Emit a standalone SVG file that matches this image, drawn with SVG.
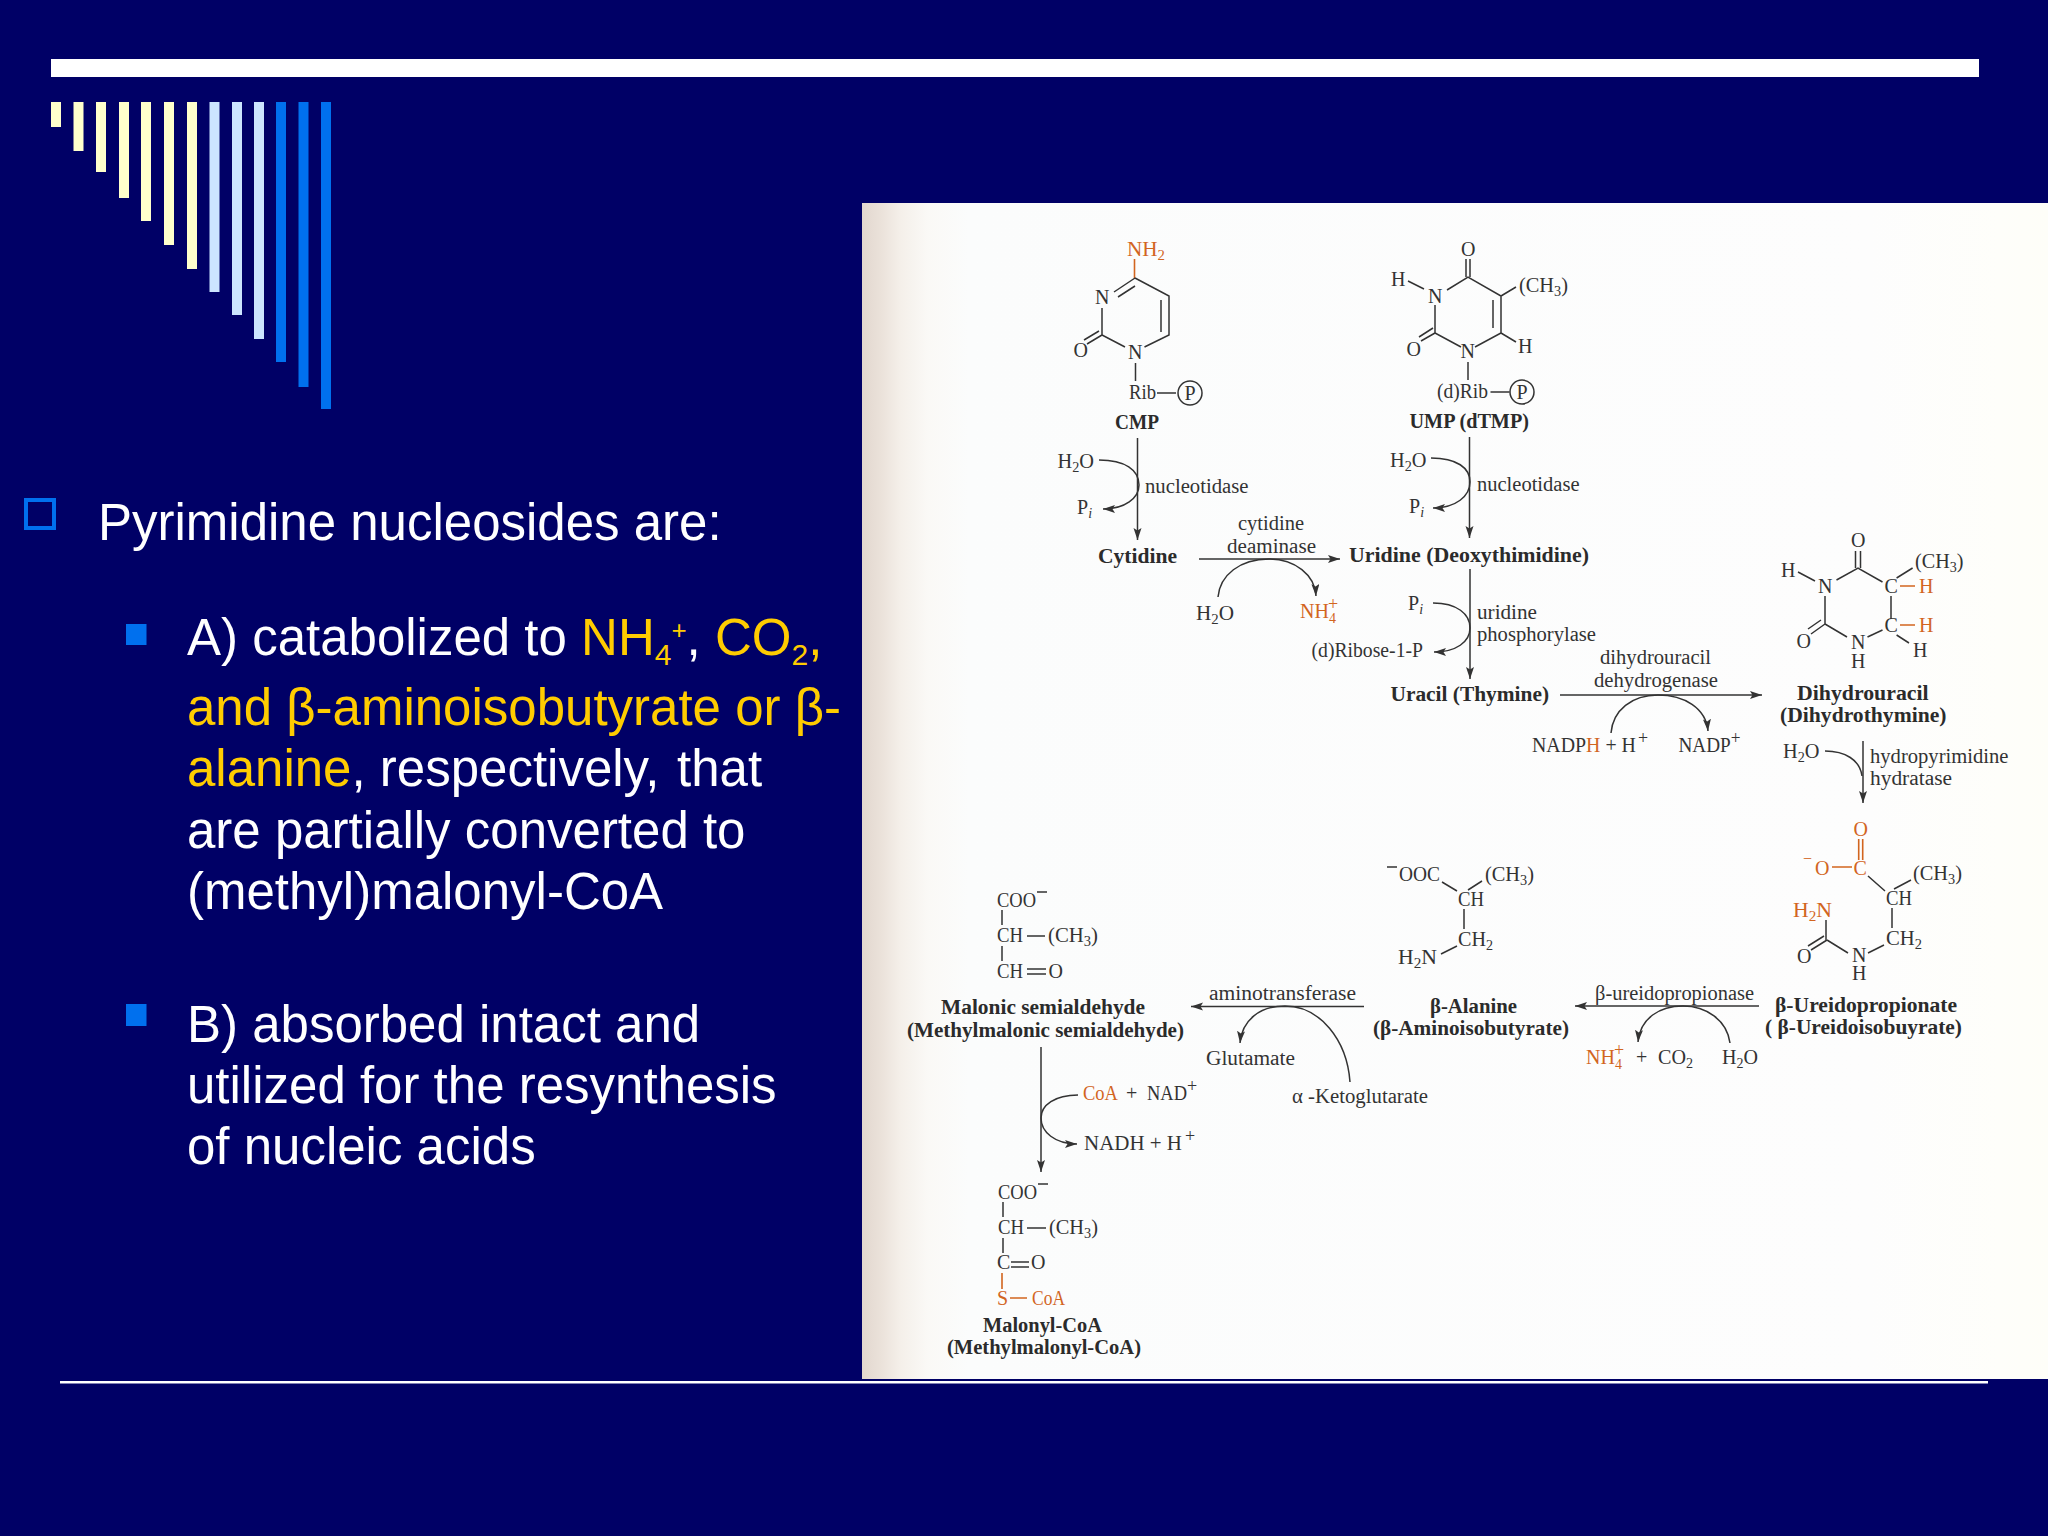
<svg xmlns="http://www.w3.org/2000/svg" width="2048" height="1536" viewBox="0 0 2048 1536">
<style>
.s{font-family:"Liberation Sans",Arial,sans-serif;font-size:51px;fill:#fff}
.y{fill:#FFCC00}
.t{font-family:"Liberation Serif","Times New Roman",serif;font-size:20px;fill:#333}
.b{font-family:"Liberation Serif","Times New Roman",serif;font-size:20px;font-weight:bold;fill:#2b2b2b}
.o{fill:#D2651F}
.bond{stroke:#333;stroke-width:1.5;fill:none}
.obond{stroke:#D2651F;stroke-width:1.6;fill:none}
.conn{stroke:#333;stroke-width:1.5;fill:none}
.ar{marker-end:url(#ah)}
.ring{fill:none;stroke:#333;stroke-width:1.5}
</style>
<defs>
<linearGradient id="paper" gradientUnits="userSpaceOnUse" x1="862" x2="2048" y1="0" y2="0">
<stop offset="0" stop-color="#E2D7CF"/>
<stop offset="0.015" stop-color="#EAE1D9"/>
<stop offset="0.032" stop-color="#F4EFE9"/>
<stop offset="0.055" stop-color="#FAF9F6"/>
<stop offset="0.09" stop-color="#FBFCFC"/>
<stop offset="0.85" stop-color="#FDFDFD"/>
<stop offset="0.96" stop-color="#FEFEFA"/>
<stop offset="1" stop-color="#FEFEF8"/>
</linearGradient>
<marker id="ah" markerUnits="userSpaceOnUse" markerWidth="14" markerHeight="10" refX="12" refY="4" orient="auto"><path d="M0 0L12 4L0 8L2.500 4Z" fill="#333"/></marker>
</defs>
<rect id="background" width="2048" height="1536" fill="#000066"/>
<rect id="top-bar" x="51" y="59" width="1928" height="18" fill="#fff"/>
<g id="stripes">
<rect x="51" y="102" width="10" height="25" fill="#FFFFCC"/>
<rect x="73.500" y="102" width="10" height="49" fill="#FFFFCC"/>
<rect x="96" y="102" width="10" height="70" fill="#FFFFCC"/>
<rect x="119" y="102" width="10" height="96" fill="#FFFFCC"/>
<rect x="141" y="102" width="10" height="119" fill="#FFFFCC"/>
<rect x="164" y="102" width="10" height="143" fill="#FFFFCC"/>
<rect x="187" y="102" width="10" height="167" fill="#FFFFCC"/>
<rect x="209.500" y="102" width="10" height="190" fill="#CCE5FF"/>
<rect x="232" y="102" width="10" height="213" fill="#CCE5FF"/>
<rect x="254" y="102" width="10" height="237" fill="#CCE5FF"/>
<rect x="276" y="102" width="10" height="260" fill="#0070EE"/>
<rect x="298.500" y="102" width="10" height="285" fill="#0070EE"/>
<rect x="321" y="102" width="10" height="307" fill="#0070EE"/>
</g>
<rect id="paper-panel" x="862" y="203" width="1186" height="1176" fill="url(#paper)"/>
<rect id="bottom-rule" x="60" y="1381" width="1928" height="2.500" fill="#fff"/>
<g id="slide-text">
<rect x="26" y="500" width="28" height="28" fill="none" stroke="#0070EE" stroke-width="4"/>
<text class="s" x="98" y="540">Pyrimidine nucleosides are:</text>
<rect x="126" y="624" width="20.500" height="21" fill="#0070EE"/>
<text class="s" x="187" y="655">A) catabolized to <tspan class="y">NH<tspan font-size="30" dy="10">4</tspan><tspan font-size="26" dy="-26">+</tspan></tspan><tspan dy="16">, </tspan><tspan class="y">CO<tspan font-size="30" dy="10">2</tspan></tspan><tspan class="y" dy="-10">,</tspan></text>
<text class="s y" x="187" y="725">and β-aminoisobutyrate or β-</text>
<text class="s" x="187" y="786"><tspan class="y">alanine</tspan>, respectively, <tspan x="677">that</tspan></text>
<text class="s" x="187" y="848">are partially converted to</text>
<text class="s" x="187" y="909">(methyl)malonyl-CoA</text>
<rect x="126" y="1004" width="20.500" height="22" fill="#0070EE"/>
<text class="s" x="187" y="1042">B) absorbed intact and</text>
<text class="s" x="187" y="1103">utilized for the resynthesis</text>
<text class="s" x="187" y="1164">of nucleic acids</text>
</g>
<g id="connectors">
<path class="conn ar" d="M1137.500 438V540"/>
<path class="conn ar" d="M1099 460C1125 460 1139 470 1139 485C1139 498 1125 509 1103 509"/>
<path class="conn ar" d="M1469.500 437V538"/>
<path class="conn ar" d="M1431 458C1457 458 1470 468 1470 482C1470 496 1456 508 1433 508"/>
<path class="conn ar" d="M1199 559H1340"/>
<path class="conn ar" d="M1218 597C1220 575 1240 559 1269 559C1295 559 1315 575 1316 596"/>
<path class="conn ar" d="M1470 569V679"/>
<path class="conn ar" d="M1433 603C1457 603 1470 614 1470 628C1470 642 1456 652 1434 652"/>
<path class="conn ar" d="M1560 695H1762"/>
<path class="conn ar" d="M1611 733C1613 710 1632 695 1658 695C1684 695 1706 708 1708 731"/>
<path class="conn ar" d="M1863 741V803"/>
<path class="conn" d="M1825 751C1845 751 1860 760 1862 776"/>
<path class="conn ar" d="M1759 1006H1575"/>
<path class="conn ar" d="M1730 1043C1727 1020 1706 1006 1683 1006C1660 1006 1640 1018 1638 1042"/>
<path class="conn ar" d="M1364 1006.500H1191"/>
<path class="conn ar" d="M1350 1082C1347 1040 1320 1006 1285 1006C1260 1006 1242 1020 1240 1043"/>
<path class="conn ar" d="M1041 1047V1172"/>
<path class="conn ar" d="M1078 1095C1055 1095 1041 1105 1041 1118C1041 1132 1055 1144 1077 1144"/>
</g>
<g id="node-cmp">
<text class="t o" x="1127" y="256" textLength="38" lengthAdjust="spacingAndGlyphs">NH<tspan font-size="14" dy="4">2</tspan></text>
<path class="obond" d="M1134.500 259V278"/>
<path class="bond" d="M1135 278L1169 296V335L1144.500 347M1125 347L1102 335V308M1114 292L1135 278M1118 297L1135 286M1161 300V332M1102 335L1087 344M1099 331L1084 340M1135.500 363V381M1157 393H1176"/>
<text class="t" x="1095" y="304">N</text>
<text class="t" x="1128" y="359">N</text>
<text class="t" x="1073.500" y="357">O</text>
<text class="t" x="1129" y="399" textLength="27" lengthAdjust="spacingAndGlyphs">Rib</text>
<circle class="ring" cx="1190" cy="393" r="12"/>
<text class="t" x="1184.500" y="399.500">P</text>
<text class="b" x="1115" y="429" textLength="44" lengthAdjust="spacingAndGlyphs">CMP</text>
</g>
<g id="node-ump">
<path class="bond" d="M1466 259V277M1470 259V277M1447 290L1468 277L1501 296V333L1475 347M1461 347L1435 333V305M1493 300V328M1435 333L1421 341M1433 328L1419 337M1408 281L1424 289M1501 296L1516 287M1501 333L1516 342M1468 362V380M1490.500 392H1509.500"/>
<text class="t" x="1461" y="256">O</text>
<text class="t" x="1428" y="303">N</text>
<text class="t" x="1460.500" y="358">N</text>
<text class="t" x="1406.500" y="356">O</text>
<text class="t" x="1391" y="286">H</text>
<text class="t" x="1518" y="353">H</text>
<text class="t" x="1519" y="292" textLength="49" lengthAdjust="spacingAndGlyphs">(CH<tspan font-size="14" dy="4">3</tspan><tspan dy="-4">)</tspan></text>
<text class="t" x="1437" y="398" textLength="51" lengthAdjust="spacingAndGlyphs">(d)Rib</text>
<circle class="ring" cx="1522" cy="392" r="12"/>
<text class="t" x="1516.500" y="398.500">P</text>
<text class="b" x="1409.500" y="428" textLength="119.500" lengthAdjust="spacingAndGlyphs">UMP (dTMP)</text>
</g>
<g id="node-labels-upper">
<text class="t" x="1057.500" y="468" textLength="36.500" lengthAdjust="spacingAndGlyphs">H<tspan font-size="14" dy="4">2</tspan><tspan dy="-4">O</tspan></text>
<text class="t" x="1077" y="514">P<tspan font-size="14" dy="4" font-style="italic">i</tspan></text>
<text class="t" x="1145" y="493" textLength="103.500" lengthAdjust="spacingAndGlyphs">nucleotidase</text>
<text class="t" x="1390" y="467" textLength="36.500" lengthAdjust="spacingAndGlyphs">H<tspan font-size="14" dy="4">2</tspan><tspan dy="-4">O</tspan></text>
<text class="t" x="1409" y="513">P<tspan font-size="14" dy="4" font-style="italic">i</tspan></text>
<text class="t" x="1477" y="491" textLength="102.500" lengthAdjust="spacingAndGlyphs">nucleotidase</text>
<text class="b" x="1098" y="563" textLength="79" lengthAdjust="spacingAndGlyphs">Cytidine</text>
<text class="t" x="1238" y="530" textLength="66" lengthAdjust="spacingAndGlyphs">cytidine</text>
<text class="t" x="1227" y="553" textLength="89" lengthAdjust="spacingAndGlyphs">deaminase</text>
<text class="b" x="1349" y="562" textLength="240" lengthAdjust="spacingAndGlyphs">Uridine (Deoxythimidine)</text>
<text class="t" x="1196" y="620" textLength="38" lengthAdjust="spacingAndGlyphs">H<tspan font-size="14" dy="4">2</tspan><tspan dy="-4">O</tspan></text>
<text class="t o" x="1300" y="618">NH<tspan font-size="14" dy="5">4</tspan><tspan font-size="18" dx="-8" dy="-13">+</tspan></text>
<text class="t" x="1408" y="610">P<tspan font-size="14" dy="4" font-style="italic">i</tspan></text>
<text class="t" x="1477" y="619" textLength="60" lengthAdjust="spacingAndGlyphs">uridine</text>
<text class="t" x="1477" y="641" textLength="119" lengthAdjust="spacingAndGlyphs">phosphorylase</text>
<text class="t" x="1311.500" y="657" textLength="111.500" lengthAdjust="spacingAndGlyphs">(d)Ribose-1-P</text>
<text class="b" x="1390.500" y="701" textLength="158.500" lengthAdjust="spacingAndGlyphs">Uracil (Thymine)</text>
<text class="t" x="1600" y="664" textLength="111" lengthAdjust="spacingAndGlyphs">dihydrouracil</text>
<text class="t" x="1594" y="687" textLength="124" lengthAdjust="spacingAndGlyphs">dehydrogenase</text>
<text class="t" x="1532" y="752" textLength="116" lengthAdjust="spacingAndGlyphs">NADP<tspan class="o">H</tspan> + H<tspan font-size="18" dx="2" dy="-8">+</tspan></text>
<text class="t" x="1678.500" y="752" textLength="62" lengthAdjust="spacingAndGlyphs">NADP<tspan font-size="18" dy="-8">+</tspan></text>
</g>
<g id="node-dihydrouracil">
<path class="bond" d="M1855.500 551V568M1860.500 551V568M1836.500 580L1858 568L1882.500 582M1798 572L1815 581M1896.600 578L1912.600 568M1891 596V619M1825 596V624L1847 637M1867.500 637L1882.500 630M1896.600 635L1909 643M1825 624L1811 634M1821 620L1808 629"/>
<path class="obond" d="M1900 586H1915M1900 625H1915"/>
<text class="t" x="1851" y="547">O</text>
<text class="t" x="1818" y="593">N</text>
<text class="t" x="1884.500" y="593">C</text>
<text class="t" x="1884.500" y="632">C</text>
<text class="t o" x="1919" y="593">H</text>
<text class="t o" x="1919" y="632">H</text>
<text class="t" x="1915" y="568" textLength="48.500" lengthAdjust="spacingAndGlyphs">(CH<tspan font-size="14" dy="4">3</tspan><tspan dy="-4">)</tspan></text>
<text class="t" x="1781" y="577">H</text>
<text class="t" x="1851" y="649">N</text>
<text class="t" x="1851" y="668">H</text>
<text class="t" x="1913" y="657">H</text>
<text class="t" x="1796.500" y="648">O</text>
<text class="b" x="1797" y="700" textLength="131.600" lengthAdjust="spacingAndGlyphs">Dihydrouracil</text>
<text class="b" x="1780" y="722" textLength="166.500" lengthAdjust="spacingAndGlyphs">(Dihydrothymine)</text>
<text class="t" x="1783" y="758" textLength="36.500" lengthAdjust="spacingAndGlyphs">H<tspan font-size="14" dy="4">2</tspan><tspan dy="-4">O</tspan></text>
<text class="t" x="1870" y="763" textLength="138.500" lengthAdjust="spacingAndGlyphs">hydropyrimidine</text>
<text class="t" x="1870" y="785" textLength="82" lengthAdjust="spacingAndGlyphs">hydratase</text>
</g>
<g id="node-ureidopropionate">
<path class="obond" d="M1858.700 839V860M1862.700 839V860M1832 867H1852"/>
<path class="bond" d="M1868 876L1885 891M1894 889L1911 880M1892 908V928M1868 953L1884 945M1827 940L1848 953M1827 940L1811 950M1824 936L1808 946M1826 920V940"/>
<text class="t o" x="1853.500" y="836">O</text>
<text class="t o" x="1853.500" y="875">C</text>
<text class="t o" x="1803" y="875"><tspan font-size="16" dy="-11">−</tspan><tspan dx="3" dy="11">O</tspan></text>
<text class="t" x="1886" y="905" textLength="26" lengthAdjust="spacingAndGlyphs">CH</text>
<text class="t" x="1913" y="880" textLength="49" lengthAdjust="spacingAndGlyphs">(CH<tspan font-size="14" dy="4">3</tspan><tspan dy="-4">)</tspan></text>
<text class="t" x="1886" y="945" textLength="36" lengthAdjust="spacingAndGlyphs">CH<tspan font-size="14" dy="4">2</tspan></text>
<text class="t" x="1852" y="962">N</text>
<text class="t" x="1852" y="980">H</text>
<text class="t" x="1797" y="963">O</text>
<text class="t o" x="1793" y="917" textLength="39" lengthAdjust="spacingAndGlyphs">H<tspan font-size="14" dy="4">2</tspan><tspan dy="-4">N</tspan></text>
<text class="b" x="1775" y="1012" textLength="182" lengthAdjust="spacingAndGlyphs">β-Ureidopropionate</text>
<text class="b" x="1765" y="1034" textLength="197" lengthAdjust="spacingAndGlyphs">( β-Ureidoisobuyrate)</text>
<text class="t" x="1722" y="1064" textLength="36" lengthAdjust="spacingAndGlyphs">H<tspan font-size="14" dy="4">2</tspan><tspan dy="-4">O</tspan></text>
<text class="t" x="1595" y="1000" textLength="159" lengthAdjust="spacingAndGlyphs">β-ureidopropionase</text>
<text class="t o" x="1586" y="1064">NH<tspan font-size="14" dy="5">4</tspan><tspan font-size="18" dx="-8" dy="-13">+</tspan></text>
<text class="t" x="1636" y="1064">+</text>
<text class="t" x="1658" y="1064" textLength="35" lengthAdjust="spacingAndGlyphs">CO<tspan font-size="14" dy="4">2</tspan></text>
</g>
<g id="node-alanine">
<path class="bond" d="M1387 867H1397M1442 882L1457 891M1468 890L1482 881M1464 909V929M1441 954L1457 946"/>
<text class="t" x="1399" y="881" textLength="41" lengthAdjust="spacingAndGlyphs">OOC</text>
<text class="t" x="1485" y="881" textLength="49" lengthAdjust="spacingAndGlyphs">(CH<tspan font-size="14" dy="4">3</tspan><tspan dy="-4">)</tspan></text>
<text class="t" x="1458" y="906" textLength="26" lengthAdjust="spacingAndGlyphs">CH</text>
<text class="t" x="1458" y="946" textLength="35" lengthAdjust="spacingAndGlyphs">CH<tspan font-size="14" dy="4">2</tspan></text>
<text class="t" x="1398" y="964" textLength="39" lengthAdjust="spacingAndGlyphs">H<tspan font-size="14" dy="4">2</tspan><tspan dy="-4">N</tspan></text>
<text class="b" x="1430" y="1013" textLength="87" lengthAdjust="spacingAndGlyphs">β-Alanine</text>
<text class="b" x="1373" y="1035" textLength="196" lengthAdjust="spacingAndGlyphs">(β-Aminoisobutyrate)</text>
<text class="t" x="1209" y="1000" textLength="147" lengthAdjust="spacingAndGlyphs">aminotransferase</text>
<text class="t" x="1206" y="1065" textLength="89" lengthAdjust="spacingAndGlyphs">Glutamate</text>
<text class="t" x="1292" y="1103" textLength="136" lengthAdjust="spacingAndGlyphs">α -Ketoglutarate</text>
</g>
<g id="node-malonic">
<path class="bond" d="M1037 892H1047M1002 910V925M1027 936H1045M1002 946V961M1027 969H1046M1027 974H1046"/>
<text class="t" x="997" y="907" textLength="39" lengthAdjust="spacingAndGlyphs">COO</text>
<text class="t" x="997" y="942" textLength="26" lengthAdjust="spacingAndGlyphs">CH</text>
<text class="t" x="1048" y="942" textLength="50" lengthAdjust="spacingAndGlyphs">(CH<tspan font-size="14" dy="4">3</tspan><tspan dy="-4">)</tspan></text>
<text class="t" x="997" y="978" textLength="26" lengthAdjust="spacingAndGlyphs">CH</text>
<text class="t" x="1048.500" y="978">O</text>
<text class="b" x="941" y="1014" textLength="204" lengthAdjust="spacingAndGlyphs">Malonic semialdehyde</text>
<text class="b" x="907" y="1037" textLength="277" lengthAdjust="spacingAndGlyphs">(Methylmalonic semialdehyde)</text>
<text class="t o" x="1083" y="1100" textLength="35" lengthAdjust="spacingAndGlyphs">CoA</text>
<text class="t" x="1126" y="1100">+</text>
<text class="t" x="1147" y="1100" textLength="40" lengthAdjust="spacingAndGlyphs">NAD</text>
<text class="t" x="1187" y="1092" font-size="18" style="font-size:18px">+</text>
<text class="t" x="1084" y="1150" textLength="98" lengthAdjust="spacingAndGlyphs">NADH + H</text>
<text class="t" x="1185" y="1142" style="font-size:18px">+</text>
</g>
<g id="node-malonyl-coa">
<path class="bond" d="M1038 1184H1048M1003 1202V1217M1027 1228H1046M1003 1238V1253M1011 1262H1029M1011 1267H1029"/>
<path class="obond" d="M1002 1273V1289M1010 1298H1027"/>
<text class="t" x="998" y="1199" textLength="39" lengthAdjust="spacingAndGlyphs">COO</text>
<text class="t" x="998" y="1234" textLength="26" lengthAdjust="spacingAndGlyphs">CH</text>
<text class="t" x="1049" y="1234" textLength="49" lengthAdjust="spacingAndGlyphs">(CH<tspan font-size="14" dy="4">3</tspan><tspan dy="-4">)</tspan></text>
<text class="t" x="997" y="1269">C</text>
<text class="t" x="1031" y="1269">O</text>
<text class="t o" x="997" y="1305">S</text>
<text class="t o" x="1032" y="1305" textLength="33" lengthAdjust="spacingAndGlyphs">CoA</text>
<text class="b" x="983" y="1332" textLength="119" lengthAdjust="spacingAndGlyphs">Malonyl-CoA</text>
<text class="b" x="947" y="1354" textLength="194" lengthAdjust="spacingAndGlyphs">(Methylmalonyl-CoA)</text>
</g>
</svg>
